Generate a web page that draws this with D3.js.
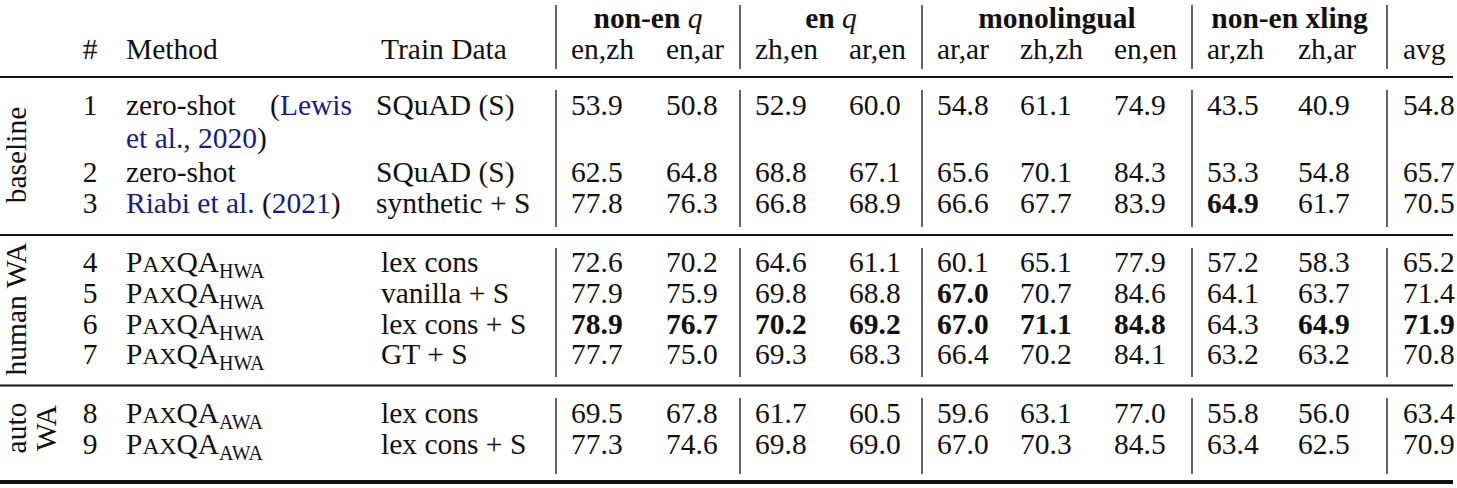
<!DOCTYPE html>
<html>
<head>
<meta charset="utf-8">
<script src="https://cdn.jsdelivr.net/npm/d3@7"></script>
<style>
  body { margin: 0; background: #fff; }
  svg text { font-family: "Liberation Serif", "Times New Roman", serif; font-size: 29.5px; fill: #111; }
  .cite { fill: #1b1b86; }
  .b { font-weight: bold; }
</style>
</head>
<body>
<svg id="tbl" width="1457" height="488"></svg>
<script>
// ---- table data ----
var blocks = ["baseline", "human WA", "auto WA"];
var rowNums = ["1", "2", "3", "4", "5", "6", "7", "8", "9"];
var methods = ["zero-shot (Lewis et al., 2020)", "zero-shot", "Riabi et al. (2021)",
  "PaxQA_HWA", "PaxQA_HWA", "PaxQA_HWA", "PaxQA_HWA", "PaxQA_AWA", "PaxQA_AWA"];
var trainData = ["SQuAD (S)", "SQuAD (S)", "synthetic + S", "lex cons", "vanilla + S",
  "lex cons + S", "GT + S", "lex cons", "lex cons + S"];
var groupHeads = ["non-en q", "en q", "monolingual", "non-en xling"];
var colLabels = ["en,zh", "en,ar", "zh,en", "ar,en", "ar,ar", "zh,zh", "en,en", "ar,zh", "zh,ar", "avg"];
var scores = [
  [53.9, 50.8, 52.9, 60.0, 54.8, 61.1, 74.9, 43.5, 40.9, 54.8],
  [62.5, 64.8, 68.8, 67.1, 65.6, 70.1, 84.3, 53.3, 54.8, 65.7],
  [77.8, 76.3, 66.8, 68.9, 66.6, 67.7, 83.9, 64.9, 61.7, 70.5],
  [72.6, 70.2, 64.6, 61.1, 60.1, 65.1, 77.9, 57.2, 58.3, 65.2],
  [77.9, 75.9, 69.8, 68.8, 67.0, 70.7, 84.6, 64.1, 63.7, 71.4],
  [78.9, 76.7, 70.2, 69.2, 67.0, 71.1, 84.8, 64.3, 64.9, 71.9],
  [77.7, 75.0, 69.3, 68.3, 66.4, 70.2, 84.1, 63.2, 63.2, 70.8],
  [69.5, 67.8, 61.7, 60.5, 59.6, 63.1, 77.0, 55.8, 56.0, 63.4],
  [77.3, 74.6, 69.8, 69.0, 67.0, 70.3, 84.5, 63.4, 62.5, 70.9]
];
// best results shown in bold: [row, column]
var boldCells = [["3", "ar,zh"], ["5", "ar,ar"],
  ["6", "en,zh"], ["6", "en,ar"], ["6", "zh,en"], ["6", "ar,en"], ["6", "ar,ar"],
  ["6", "zh,zh"], ["6", "en,en"], ["6", "zh,ar"], ["6", "avg"]];

// ---- layout ----
var svg = d3.select("#tbl");
var fmt = d3.format(".1f");

var y = d3.scaleOrdinal().domain(rowNums)
  .range([114.5, 181.5, 212.5, 272, 303, 333.5, 364, 423, 453.5]);
var x = d3.scaleOrdinal().domain(colLabels)
  .range([571, 666, 755, 849, 937, 1020, 1114, 1207, 1298, 1403]);
var sepX = [556, 740, 922, 1192, 1387];          // vertical lines
var sepY = [[5, 69], [90, 227], [248, 377], [398, 474]];
var rules = [{y: 77, w: 2}, {y: 235, w: 2}, {y: 385.5, w: 2}, {y: 482, w: 4}];
var head1 = 28, head2 = 59;
var xNum = 90, xMethod = 126, xMethodEnd = 352, xTrain = 381;
var blockCenters = [155, 309, 428];

// rules
svg.selectAll("line.rule").data(rules).enter().append("line")
  .attr("class", "rule")
  .attr("x1", 0).attr("x2", 1453)
  .attr("y1", function(d) { return d.y; }).attr("y2", function(d) { return d.y; })
  .attr("stroke", "#111").attr("stroke-width", function(d) { return d.w; });

// vertical separators
sepX.forEach(function(sx) {
  svg.selectAll(null).data(sepY).enter().append("line")
    .attr("x1", sx).attr("x2", sx)
    .attr("y1", function(d) { return d[0]; }).attr("y2", function(d) { return d[1]; })
    .attr("stroke", "#111").attr("stroke-width", 1.3);
});

// header row 1: column groups, centered between separators
svg.selectAll("text.grp").data(groupHeads).enter().append("text")
  .attr("class", "grp b")
  .attr("text-anchor", "middle")
  .attr("x", function(d, i) { return (sepX[i] + sepX[i + 1]) / 2; })
  .attr("y", head1)
  .each(function(d) {
    var t = d3.select(this);
    if (/ q$/.test(d)) {
      t.append("tspan").text(d.slice(0, -1));
      t.append("tspan").attr("font-style", "italic").attr("font-weight", "normal").text("q");
    } else {
      t.text(d);
    }
  });

// header row 2
svg.append("text").attr("x", xNum).attr("y", head2).attr("text-anchor", "middle").text("#");
svg.append("text").attr("x", xMethod).attr("y", head2).text("Method");
svg.append("text").attr("x", xTrain).attr("y", head2).text("Train Data");
svg.selectAll("text.col").data(colLabels).enter().append("text")
  .attr("class", "col")
  .attr("x", function(d) { return x(d); })
  .attr("y", head2)
  .text(function(d) { return d; });

// block labels, rotated
blocks.forEach(function(b, i) {
  var words = b === "auto WA" ? ["auto", "WA"] : [b];
  words.forEach(function(w, j) {
    svg.append("text")
      .attr("text-anchor", "middle")
      .attr("transform", "translate(" + (26 + j * 30) + "," + blockCenters[i] + ") rotate(-90)")
      .text(w);
  });
});

// row numbers
svg.selectAll("text.num").data(rowNums).enter().append("text")
  .attr("class", "num").attr("text-anchor", "middle")
  .attr("x", xNum).attr("y", function(d) { return y(d); })
  .text(function(d) { return d; });

// methods
methods.forEach(function(m, i) {
  var yy = y(rowNums[i]);
  if (m.indexOf("PaxQA") === 0) {
    var t = svg.append("text").attr("x", xMethod).attr("y", yy);
    t.append("tspan").text("P");
    t.append("tspan").attr("font-size", "23.5px").text("AX");
    t.append("tspan").text("QA");
    t.append("tspan").attr("font-size", "20px").attr("dy", 6).text(m.split("_")[1]);
  } else if (m.indexOf("(Lewis") > 0) {
    svg.append("text").attr("x", xMethod).attr("y", yy).text("zero-shot");
    var t2 = svg.append("text").attr("x", xMethodEnd).attr("y", yy).attr("text-anchor", "end");
    t2.append("tspan").text("(");
    t2.append("tspan").attr("class", "cite").text("Lewis");
    var t3 = svg.append("text").attr("x", xMethod).attr("y", yy + 33);
    t3.append("tspan").attr("class", "cite").text("et al., 2020");
    t3.append("tspan").text(")");
  } else if (m.indexOf("Riabi") === 0) {
    var t4 = svg.append("text").attr("x", xMethod).attr("y", yy);
    t4.append("tspan").attr("class", "cite").text("Riabi et al.");
    t4.append("tspan").text(" (");
    t4.append("tspan").attr("class", "cite").text("2021");
    t4.append("tspan").text(")");
  } else {
    svg.append("text").attr("x", xMethod).attr("y", yy).text(m);
  }
});

// train data (baseline rows sit a little further left)
svg.selectAll("text.train").data(trainData).enter().append("text")
  .attr("class", "train")
  .attr("x", function(d, i) { return i < 3 ? xTrain - 5 : xTrain; })
  .attr("y", function(d, i) { return y(rowNums[i]); })
  .text(function(d) { return d; });

// score cells
var isBold = function(r, c) {
  return boldCells.some(function(b) { return b[0] === r && b[1] === c; });
};
var cells = [];
scores.forEach(function(row, i) {
  row.forEach(function(v, j) {
    cells.push({r: rowNums[i], c: colLabels[j], v: v});
  });
});
svg.selectAll("text.cell").data(cells).enter().append("text")
  .attr("class", function(d) { return isBold(d.r, d.c) ? "cell b" : "cell"; })
  .attr("x", function(d) { return x(d.c); })
  .attr("y", function(d) { return y(d.r); })
  .text(function(d) { return fmt(d.v); });
</script>
</body>
</html>
